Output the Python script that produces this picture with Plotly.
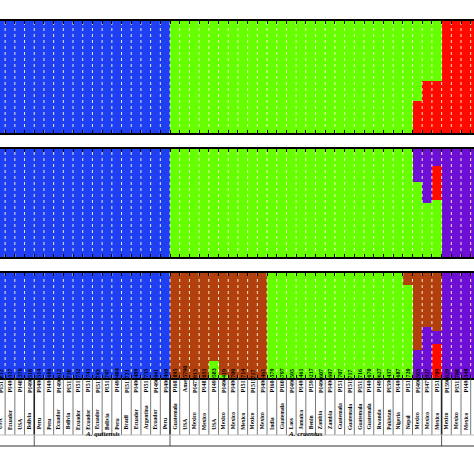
import plotly.graph_objects as go
from plotly.subplots import make_subplots

# individuals, left to right (first and last bars are cut by the frame)
accessions = [
    "PI511813", "PI490517", "PI481576", "PI490518", "PI490514", "PI490606", "PI490612", "PI511730",
    "PI511732", "PI511741", "PI511743", "PI511747", "PI490484", "PI511731", "PI490489", "PI511735",
    "PI490441", "PI490460", "PI603895", "Ames5790", "PI477913", "PI482051", "PI490583", "PI490419",
    "PI490700", "PI511714", "PI511717", "PI490461", "PI604579", "PI606797", "PI490595", "PI490461",
    "PI590217", "PI490607", "PI490607", "PI511707", "PI511717", "PI511716", "PI490670", "PI490627",
    "PI590437", "PI490687", "PI511720", "PI490503", "PI477927", "PI511789", "PI590629", "PI511788",
    "PI490548", "PI490547",
]
locations = [
    "USA", "Ecuador", "USA", "Bolivia", "Peru", "Peru", "Ecuador", "Bolivia", "Ecuador", "Ecuador",
    "Ecuador", "Bolivia", "Peru", "Brazil", "Ecuador", "Argentina", "Ecuador", "Peru", "Guatemala", "USA",
    "Mexico", "Mexico", "USA", "Mexico", "Mexico", "Mexico", "Mexico", "Mexico", "India", "Guatemala",
    "Laos", "Jamaica", "Benin", "Zambia", "Zambia", "Guatemala", "Guatemala", "Guatemala", "Guatemala", "Rwanda",
    "Pakistan", "Nigeria", "Nepal", "Mexico", "Mexico", "Mexico", "Mexico", "Mexico", "Mexico", "Mexico",
]
group_names = ["A. quitensis", "A. cruentus"]
group_first = [4, 18]
group_last = [17, 45]
group_edges = [3.5, 17.5, 45.5]

# membership coefficients, one value per individual
q_blue = [1, 1, 1, 1, 1, 1, 1, 1, 1, 1,
          1, 1, 1, 1, 1, 1, 1, 1, 0, 0,
          0, 0, 0, 0, 0, 0, 0, 0, 0, 0,
          0, 0, 0, 0, 0, 0, 0, 0, 0, 0,
          0, 0, 0, 0, 0, 0, 0, 0, 0, 0]

# K = 3
k3_red = [0, 0, 0, 0, 0, 0, 0, 0, 0, 0,
          0, 0, 0, 0, 0, 0, 0, 0, 0, 0,
          0, 0, 0, 0, 0, 0, 0, 0, 0, 0,
          0, 0, 0, 0, 0, 0, 0, 0, 0, 0,
          0, 0, 0, 0.29, 0.46, 0.46, 1, 1, 1, 1]
k3_green = [0, 0, 0, 0, 0, 0, 0, 0, 0, 0,
            0, 0, 0, 0, 0, 0, 0, 0, 1, 1,
            1, 1, 1, 1, 1, 1, 1, 1, 1, 1,
            1, 1, 1, 1, 1, 1, 1, 1, 1, 1,
            1, 1, 1, 0.71, 0.54, 0.54, 0, 0, 0, 0]

# K = 4
k4_green = [0, 0, 0, 0, 0, 0, 0, 0, 0, 0,
            0, 0, 0, 0, 0, 0, 0, 0, 1, 1,
            1, 1, 1, 1, 1, 1, 1, 1, 1, 1,
            1, 1, 1, 1, 1, 1, 1, 1, 1, 1,
            1, 1, 1, 0.70, 0.50, 0.53, 0, 0, 0, 0]
k4_red = [0, 0, 0, 0, 0, 0, 0, 0, 0, 0,
          0, 0, 0, 0, 0, 0, 0, 0, 0, 0,
          0, 0, 0, 0, 0, 0, 0, 0, 0, 0,
          0, 0, 0, 0, 0, 0, 0, 0, 0, 0,
          0, 0, 0, 0, 0, 0.31, 0, 0, 0, 0]
k4_purple = [0, 0, 0, 0, 0, 0, 0, 0, 0, 0,
             0, 0, 0, 0, 0, 0, 0, 0, 0, 0,
             0, 0, 0, 0, 0, 0, 0, 0, 0, 0,
             0, 0, 0, 0, 0, 0, 0, 0, 0, 0,
             0, 0, 0, 0.30, 0.50, 0.16, 1, 1, 1, 1]

# K = 5
k5_red = [0, 0, 0, 0, 0, 0, 0, 0, 0, 0,
          0, 0, 0, 0, 0, 0, 0, 0, 0, 0,
          0, 0, 0, 0, 0, 0, 0, 0, 0, 0,
          0, 0, 0, 0, 0, 0, 0, 0, 0, 0,
          0, 0, 0, 0, 0, 0.33, 0, 0, 0, 0]
k5_green = [0, 0, 0, 0, 0, 0, 0, 0, 0, 0,
            0, 0, 0, 0, 0, 0, 0, 0, 0, 0,
            0, 0, 0.17, 0.035, 0, 0, 0, 0, 1, 1,
            1, 1, 1, 1, 1, 1, 1, 1, 1, 1,
            1, 1, 0.89, 0, 0, 0, 0, 0, 0, 0]
k5_purple = [0, 0, 0, 0, 0, 0, 0, 0, 0, 0,
             0, 0, 0, 0, 0, 0, 0, 0, 0, 0,
             0, 0, 0, 0, 0, 0, 0, 0, 0, 0,
             0, 0, 0, 0, 0, 0, 0, 0, 0, 0,
             0, 0, 0, 0.27, 0.49, 0.12, 1, 1, 1, 1]
k5_brown = [0, 0, 0, 0, 0, 0, 0, 0, 0, 0,
            0, 0, 0, 0, 0, 0, 0, 0, 1, 1,
            1, 1, 0.83, 0.965, 1, 1, 1, 1, 0, 0,
            0, 0, 0, 0, 0, 0, 0, 0, 0, 0,
            0, 0, 0.11, 0.73, 0.51, 0.55, 0, 0, 0, 0]

BLUE = "#1f3ff2"
GREEN = "#66ff00"
RED = "#ff0a00"
PURPLE = "#6e0fd6"
BROWN = "#b2400e"

n = len(accessions)
idx = list(range(n))

# stacked bottom-up, as in the figure
panels = [
    [(q_blue, BLUE), (k3_red, RED), (k3_green, GREEN)],
    [(q_blue, BLUE), (k4_green, GREEN), (k4_red, RED), (k4_purple, PURPLE)],
    [(q_blue, BLUE), (k5_red, RED), (k5_green, GREEN), (k5_purple, PURPLE), (k5_brown, BROWN)],
]

fig = make_subplots(rows=3, cols=1, shared_xaxes=True)
sep_x, sep_y = [], []
for k in range(n - 1):
    sep_x += [k + 0.5, k + 0.5, None]
    sep_y += [0, 1, None]

for row, layers in enumerate(panels, 1):
    for vals, color in layers:
        fig.add_trace(go.Bar(x=idx, y=vals, width=1, marker=dict(color=color, line_width=0),
                             showlegend=False, hoverinfo="skip"), row=row, col=1)
    fig.add_trace(go.Scatter(x=sep_x, y=sep_y, mode="lines", showlegend=False, hoverinfo="skip",
                             line=dict(color="rgba(255,255,215,0.9)", width=1, dash="dot")), row=row, col=1)

xr = [-0.03, 48.84]
fig.update_xaxes(range=xr, showgrid=False, zeroline=False, showline=True, linewidth=2, linecolor="black",
                 mirror="ticks", ticks="inside", ticklen=3, tickcolor="black", tickwidth=1,
                 tickvals=[k + 0.5 for k in range(n - 1)], showticklabels=False)
fig.update_yaxes(range=[0, 1], visible=False)

# panel positions in the 474 px frame
fig.update_layout(
    yaxis=dict(domain=[0.7194, 0.9557]),
    yaxis2=dict(domain=[0.4578, 0.6867]),
    yaxis3=dict(domain=[0.2025, 0.4251]),
    barmode="stack", bargap=0,
    width=474, height=474, margin=dict(l=0, r=0, t=0, b=0),
    plot_bgcolor="white", paper_bgcolor="white",
    font=dict(family="Liberation Serif", color="black"),
)

# sample table below the bars
shapes = []
for k in range(n - 1):
    thick = (k + 0.5) in group_edges
    shapes.append(dict(type="line", xref="x3", yref="paper", x0=k + 0.5, x1=k + 0.5, y0=0.0823, y1=0.2025,
                       line=dict(color="#222" if thick else "#555", width=1.6 if thick else 0.8)))
for e in group_edges:
    shapes.append(dict(type="line", xref="x3", yref="paper", x0=e, x1=e, y0=0.0591, y1=0.0823,
                       line=dict(color="#555", width=1)))
shapes.append(dict(type="line", xref="paper", yref="paper", x0=0, x1=1, y0=0.0823, y1=0.0823,
                   line=dict(color="#bbb", width=1)))
shapes.append(dict(type="line", xref="paper", yref="paper", x0=0, x1=1, y0=0.0591, y1=0.0591,
                   line=dict(color="#333", width=1.2)))
fig.update_layout(shapes=shapes)

for k in range(n):
    fig.add_annotation(x=k, y=0.1675, xref="x3", yref="paper", text="<b>" + accessions[k] + "</b>",
                       textangle=-90, showarrow=False, font=dict(size=6))
    fig.add_annotation(x=k, y=0.0895, xref="x3", yref="paper", text="<b>" + locations[k] + "</b>",
                       textangle=-90, showarrow=False, yanchor="bottom", font=dict(size=5.5))
for name, a, b in zip(group_names, group_first, group_last):
    fig.add_annotation(x=(a + b) / 2, y=0.0707, xref="x3", yref="paper", text="<b><i>" + name + "</i></b>",
                       showarrow=False, font=dict(size=7))

# the page body has a default 8px margin; drop it so the chart fills the window
fig.write_html("out.html", config={"displayModeBar": False},
               post_script="document.body.style.margin='0';")
